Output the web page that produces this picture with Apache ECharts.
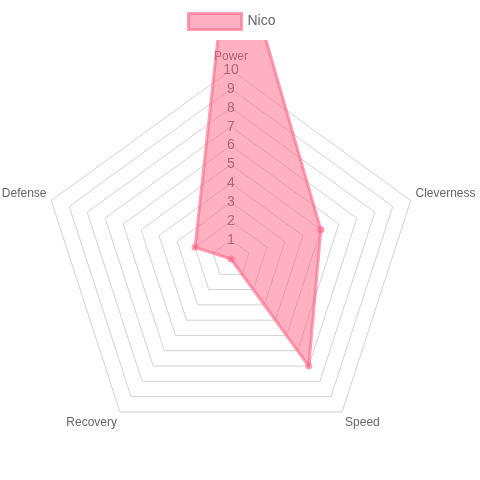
<!DOCTYPE html>
<html>
<head>
<meta charset="utf-8">
<script src="https://cdn.jsdelivr.net/npm/echarts@6/dist/echarts.min.js"></script>
<style>
    html, body { margin: 0; padding: 0; background: #fff; }
    #chart { width: 480px; height: 480px; }
</style>
</head>
<body>
<div id="chart"></div>
<script>
// radar axes (clockwise from the top) and the one dataset
const indicators = ["Power", "Cleverness", "Speed", "Recovery", "Defense"];
const axisMax = 10;
const seriesName = "Nico";
const nicoValues = [18, 5, 7, 0, 2];

// echarts lays radar axes out counter-clockwise, so walk the list backwards after the first
const order = [0, 4, 3, 2, 1];

// nudge the point labels so they sit like the original's
const nameStyleFor = {
    Power: "top",
    Cleverness: "side",
    Defense: "side",
    Speed: "low",
    Recovery: "low"
};

const chart = echarts.init(document.getElementById("chart"));

const option = {
    backgroundColor: "#fff",
    textStyle: { fontFamily: "Arial, 'Liberation Sans', sans-serif" },
    legend: {
        data: [seriesName],
        top: 7,
        left: 182,
        z: 20,
        icon: "rect",
        itemWidth: 53,
        itemHeight: 16,
        itemGap: 10,
        textStyle: { color: "#666", fontSize: 14, padding: [0, 0, 0, 1] },
        itemStyle: {
            color: "rgba(255,99,132,0.5)",
            borderColor: "rgba(255,99,132,0.6)",
            borderWidth: 3
        }
    },
    // chart area clip: the Power value runs past the top of the plot
    graphic: [{
        type: "rect",
        z: 10,
        shape: { x: 0, y: 0, width: 480, height: 40 },
        style: { fill: "#fff" }
    }],
    radar: {
        center: [231, 259],
        radius: 189,
        shape: "polygon",
        splitNumber: 10,
        startAngle: 90,
        nameGap: 5,
        axisName: {
            color: "#666",
            fontSize: 12,
            formatter: name => "{" + nameStyleFor[name] + "|" + name + "}",
            rich: {
                top: { color: "#666", fontSize: 12, lineHeight: 7 },
                side: { color: "#666", fontSize: 12, padding: [0, 0, 10, 0] },
                low: { color: "#666", fontSize: 12, padding: [14, 0, 0, 0] }
            }
        },
        axisLine: { show: false },
        axisTick: { show: false },
        axisLabel: { show: false },
        splitLine: { lineStyle: { color: "#d3d3d3", width: 1 } },
        splitArea: { show: false },
        indicator: order.map(i => ({
            name: indicators[i],
            min: 0,
            max: axisMax,
            axisLabel: i === 0 ? {
                show: true,
                margin: 0,
                align: "center",
                verticalAlign: "middle",
                color: "#666",
                fontSize: 14,
                formatter: v => (v === 0 ? "" : String(v))
            } : { show: false }
        }))
    },
    series: [{
        type: "radar",
        name: seriesName,
        symbol: "circle",
        symbolSize: 7,
        itemStyle: { color: "rgba(255,99,132,0.6)" },
        lineStyle: { color: "rgba(255,99,132,0.6)", width: 3 },
        areaStyle: { color: "rgba(255,99,132,0.5)", opacity: 1 },
        data: [{ name: seriesName, value: order.map(i => nicoValues[i]) }]
    }]
};

chart.setOption(option);
</script>
</body>
</html>
